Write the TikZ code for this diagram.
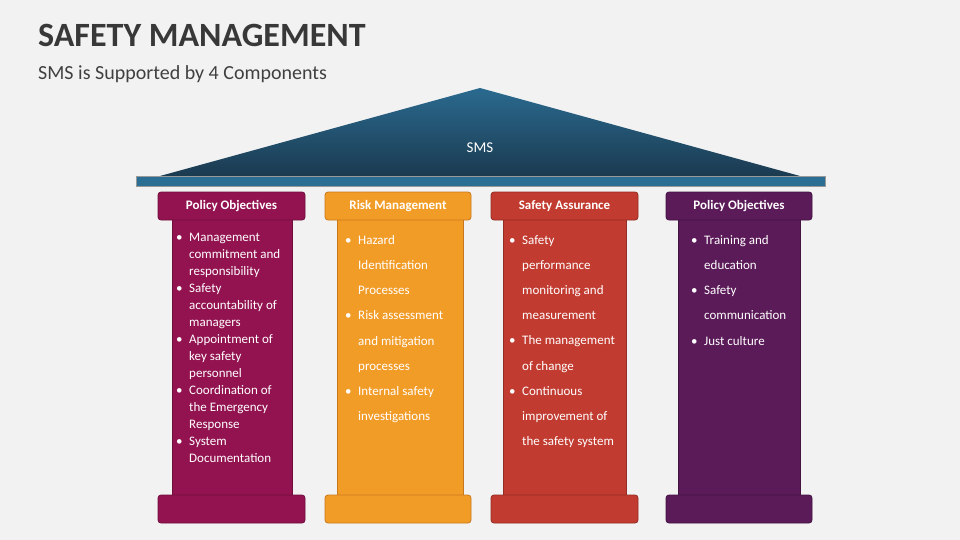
\documentclass[tikz,border=0pt]{standalone}
\usepackage{fontspec}
\setmainfont{Carlito}
\begin{document}
\begin{tikzpicture}[x=1pt,y=-1pt,
  capbox/.style={rounded corners=3pt,line width=0.8pt},
  hd/.style={text=white,font=\fontsize{13}{15}\selectfont\bfseries},
  body/.style={text=white,anchor=north west,inner sep=0pt,align=left}]
\definecolor{bg}{HTML}{F2F2F2}
\definecolor{cA}{HTML}{931350}\definecolor{bA}{HTML}{6E0E3B}
\definecolor{cB}{HTML}{F29C28}\definecolor{bB}{HTML}{C8781A}
\definecolor{cC}{HTML}{C23B30}\definecolor{bC}{HTML}{922C24}
\definecolor{cD}{HTML}{5B1A58}\definecolor{bD}{HTML}{431342}
\definecolor{rt}{HTML}{2A6A8F}\definecolor{rb}{HTML}{1B3A50}
\definecolor{bar}{HTML}{2A6E94}
\newcommand{\bl}[1]{\makebox[13pt][l]{\textbullet}#1}
\newcommand{\ct}[1]{\hspace*{13pt}#1}
\fill[bg] (0,0) rectangle (960,540);
\useasboundingbox (0,0) rectangle (960,540);
\node[anchor=west,inner sep=0pt,text=black!78,font=\fontsize{34}{40}\selectfont\bfseries] (title) at (38,35) {SAFETY MANAGEMENT};
\node[anchor=west,inner sep=0pt,text=black!75,font=\fontsize{20}{24}\selectfont] (sub) at (38,74) {SMS is Supported by 4 Components};
\shade[top color=rt,bottom color=rb] (160,176) -- (480,88) -- (800,176) -- cycle;
\node[text=white,font=\fontsize{15}{18}\selectfont] (sms) at (480,148) {SMS};
\fill[bar,draw=black!40,line width=0.5pt] (136,176) rectangle (825,186);
% pillars
\foreach \cx/\cw/\sx/\sw/\c/\b/\n in {158/305/172/292/cA/bA/a,325/471/337/463/cB/bB/b,491/638/503/626/cC/bC/c,666/812/678/800/cD/bD/d}{
  \fill[\c] (\sx,220) rectangle (\sw,495);
  \draw[\b,line width=0.5pt] (\sx,220) -- (\sx,495) (\sw,220) -- (\sw,495);
  \draw[capbox,fill=\c,draw=\b] (\cx,192) rectangle (\cw,220);
  \draw[capbox,fill=\c,draw=\b] (\cx,495) rectangle (\cw,523);
}
\node[hd] (h1) at (231.5,206) {Policy Objectives};
\node[hd] (h2) at (398,206) {Risk Management};
\node[hd] (h3) at (564.5,206) {Safety Assurance};
\node[hd] (h4) at (739,206) {Policy Objectives};
\node[body,font=\fontsize{13}{17}\selectfont] (t1) at (176,233) {\bl{Management}\\\ct{commitment and}\\\ct{responsibility}\\\bl{Safety}\\\ct{accountability of}\\\ct{managers}\\\bl{Appointment of}\\\ct{key safety}\\\ct{personnel}\\\bl{Coordination of}\\\ct{the Emergency}\\\ct{Response}\\\bl{System}\\\ct{Documentation}};
\node[body,font=\fontsize{13}{25.2}\selectfont] (t2) at (345,235) {\bl{Hazard}\\\ct{Identification}\\\ct{Processes}\\\bl{Risk assessment}\\\ct{and mitigation}\\\ct{processes}\\\bl{Internal safety}\\\ct{investigations}};
\node[body,font=\fontsize{13}{25.2}\selectfont] (t3) at (509,235) {\bl{Safety}\\\ct{performance}\\\ct{monitoring and}\\\ct{measurement}\\\bl{The management}\\\ct{of change}\\\bl{Continuous}\\\ct{improvement of}\\\ct{the safety system}};
\node[body,font=\fontsize{13}{25.2}\selectfont] (t4) at (691,235) {\bl{Training and}\\\ct{education}\\\bl{Safety}\\\ct{communication}\\\bl{Just culture}};
\end{tikzpicture}
\end{document}
